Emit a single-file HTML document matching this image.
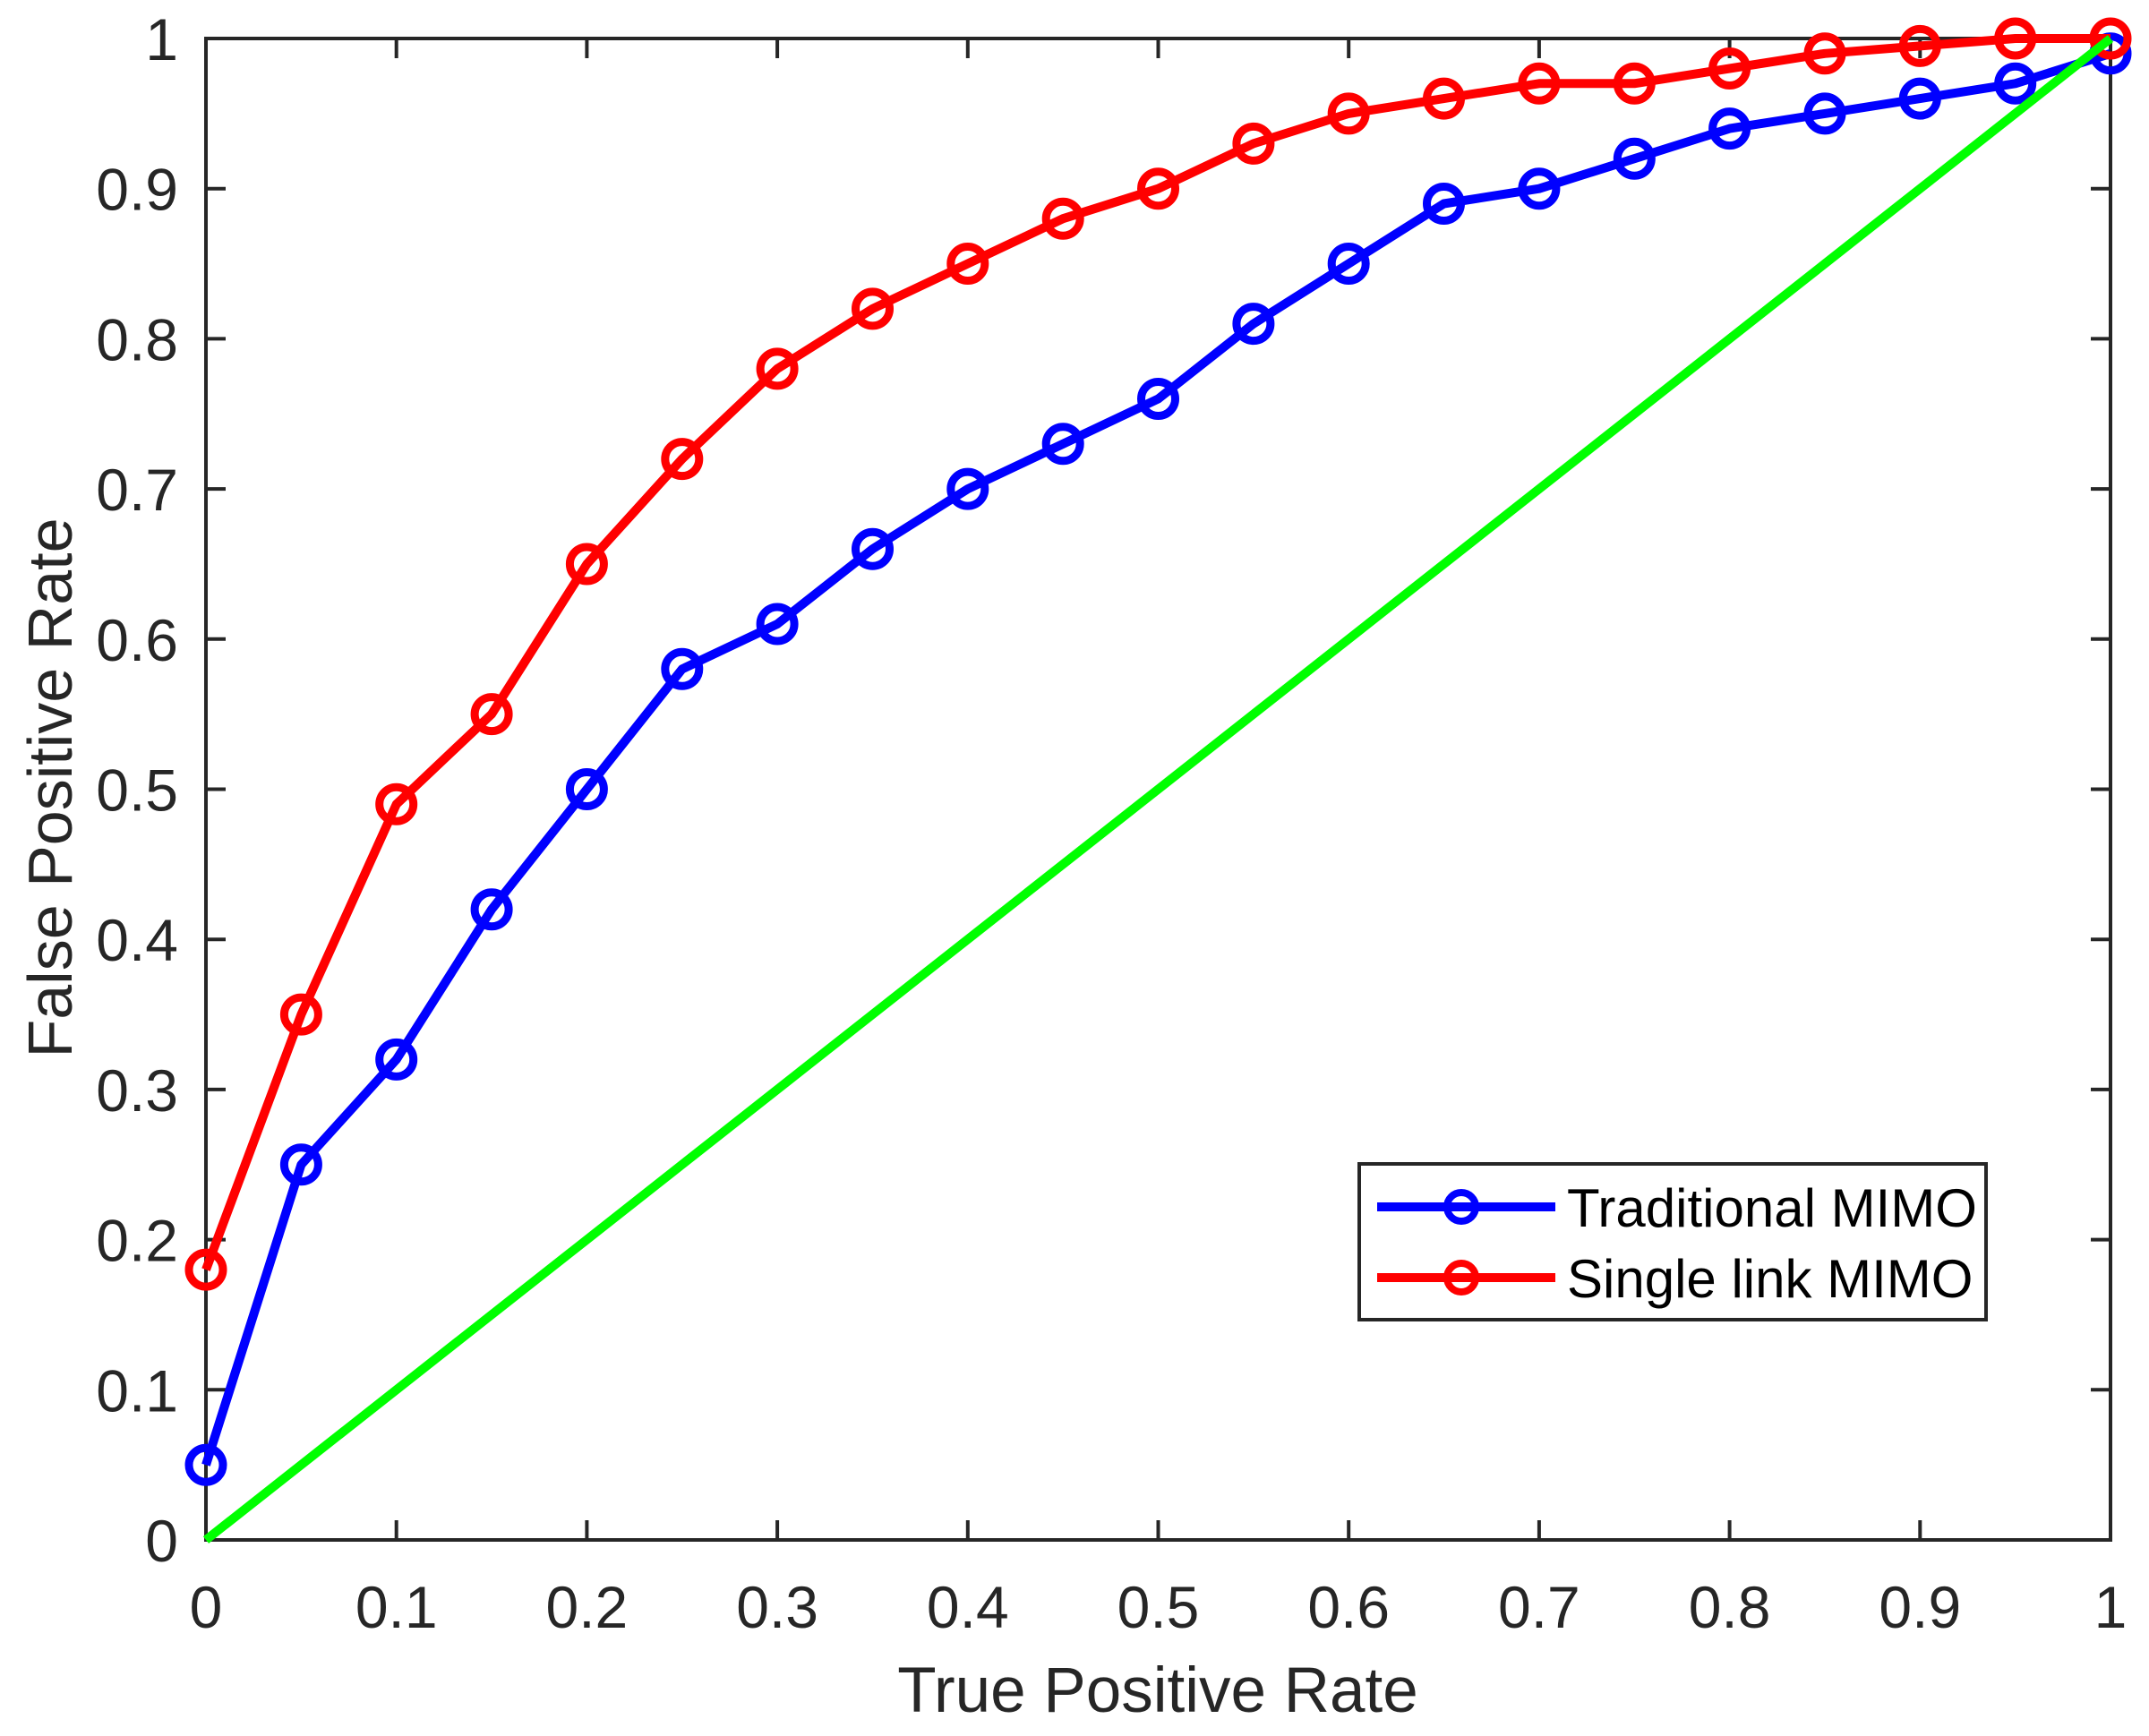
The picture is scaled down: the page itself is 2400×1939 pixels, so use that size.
<!DOCTYPE html>
<html><head><meta charset="utf-8"><style>
html,body{margin:0;padding:0;background:#fff;}
svg{display:block}
text{font-family:"Liberation Sans",Arial,sans-serif;fill:#262626}
</style></head><body>
<svg id="s" width="2400" height="1939" xmlns="http://www.w3.org/2000/svg">
<rect width="2400" height="1939" fill="#fff"/>
<g id="ax"></g>
<text x="1293" y="1912" font-size="71" text-anchor="middle">True Positive Rate</text>
<text transform="translate(80,880) rotate(-90)" font-size="70" text-anchor="middle">False Positive Rate</text>
<g id="data"></g>
<rect x="1518" y="1300" width="700" height="174" fill="#fff" stroke="#262626" stroke-width="4"/>
<line x1="1538" y1="1348" x2="1737" y2="1348" stroke="#0000ff" stroke-width="10"/>
<circle cx="1632" cy="1348" r="16" fill="none" stroke="#0000ff" stroke-width="8"/>
<line x1="1538" y1="1427" x2="1737" y2="1427" stroke="#ff0000" stroke-width="10"/>
<circle cx="1632" cy="1427" r="16" fill="none" stroke="#ff0000" stroke-width="8"/>
<text x="1750" y="1370" font-size="60" style="fill:#000">Traditional MIMO</text>
<text x="1750" y="1449" font-size="60" style="fill:#000">Single link MIMO</text>
</svg>
<script>
var L=230,R=2357,T=43,B=1720,W=R-L,H=B-T;
function X(v){return L+v*W}function Y(v){return B-v*H}
var ax='<rect x="'+L+'" y="'+T+'" width="'+W+'" height="'+H+'" fill="none" stroke="#262626" stroke-width="4"/>';
for(var i=0;i<=10;i++){var v=i/10,lab=i==0?'0':i==10?'1':'0.'+i;
var x=X(v),y=Y(v);
ax+='<line x1="'+x+'" y1="'+B+'" x2="'+x+'" y2="'+(B-22)+'" stroke="#262626" stroke-width="4"/>';
ax+='<line x1="'+x+'" y1="'+T+'" x2="'+x+'" y2="'+(T+22)+'" stroke="#262626" stroke-width="4"/>';
ax+='<line x1="'+L+'" y1="'+y+'" x2="'+(L+22)+'" y2="'+y+'" stroke="#262626" stroke-width="4"/>';
ax+='<line x1="'+R+'" y1="'+y+'" x2="'+(R-22)+'" y2="'+y+'" stroke="#262626" stroke-width="4"/>';
ax+='<text x="'+x+'" y="1818" font-size="66" text-anchor="middle">'+lab+'</text>';
ax+='<text x="199" y="'+(y+24)+'" font-size="66" text-anchor="end">'+lab+'</text>';}
document.getElementById('ax').innerHTML=ax;
var b=[0.05,0.25,0.32,0.42,0.50,0.58,0.61,0.66,0.70,0.73,0.76,0.81,0.85,0.89,0.90,0.92,0.94,0.95,0.96,0.97,0.99];
var r=[0.18,0.35,0.49,0.55,0.65,0.72,0.78,0.82,0.85,0.88,0.90,0.93,0.95,0.96,0.97,0.97,0.98,0.99,0.995,1.0,1.0];
function ser(d,c){var p='',m='';for(var i=0;i<d.length;i++){var x=X(i*0.05),y=Y(d[i]);p+=(i?'L':'M')+x.toFixed(1)+' '+y.toFixed(1);
m+='<circle cx="'+x.toFixed(1)+'" cy="'+y.toFixed(1)+'" r="19" fill="none" stroke="'+c+'" stroke-width="9"/>';}
return '<path d="'+p+'" fill="none" stroke="'+c+'" stroke-width="10" stroke-linejoin="round"/>'+m;}
document.getElementById('data').innerHTML=ser(b,'#0000ff')+ser(r,'#ff0000')+
'<line x1="'+L+'" y1="'+B+'" x2="'+R+'" y2="'+T+'" stroke="#00ff00" stroke-width="10"/>';
</script>
</body></html>
